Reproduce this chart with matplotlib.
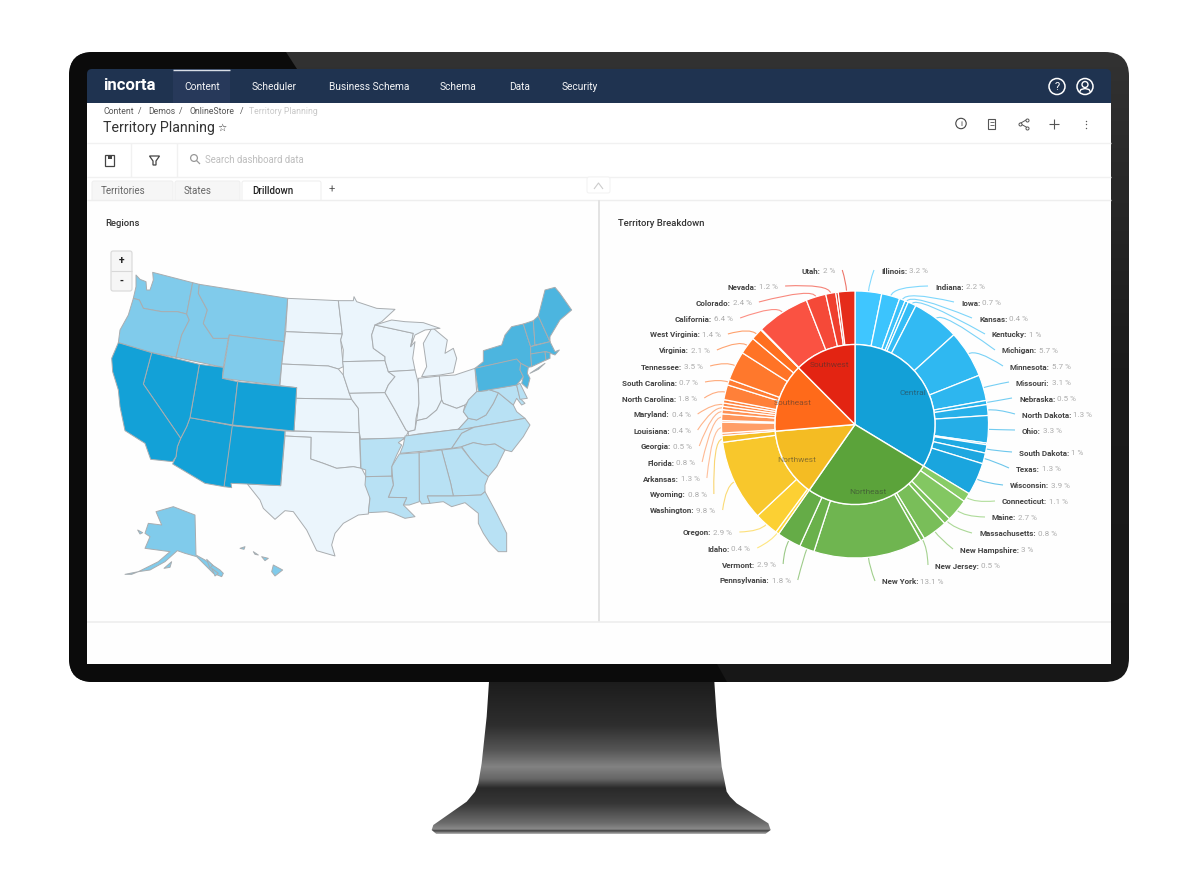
#!/usr/bin/env python3
"""Territory Planning dashboard shown on a desktop monitor."""

import numpy as np
import matplotlib
matplotlib.use('Agg')
import matplotlib.pyplot as plt
from matplotlib.colors import LinearSegmentedColormap, to_rgb
from matplotlib.patches import Circle, FancyBboxPatch, PathPatch, Polygon, Rectangle
from matplotlib.path import Path

plt.rcParams['font.family'] = ['Roboto', 'DejaVu Sans']
plt.rcParams['lines.solid_capstyle'] = 'butt'

W, H = 1200, 894

# Sunburst values (percent of total), clockwise from 12 o'clock
central_states = ['Illinois', 'Indiana', 'Iowa', 'Kansas', 'Kentucky', 'Michigan', 'Minnesota', 'Missouri',
                  'Nebraska', 'North Dakota', 'Ohio', 'Oklahoma', 'South Dakota', 'Texas', 'Wisconsin']
central_values = [3.2, 2.2, 0.7, 0.4, 1, 5.7, 5.7, 3.1, 0.5, 1.3, 3.3, 0.2, 1, 1.3, 3.9]
northeast_states = ['Connecticut', 'Maine', 'Massachusetts', 'New Hampshire', 'New Jersey', 'New York',
                    'Pennsylvania', 'Vermont']
northeast_values = [1.1, 2.7, 0.8, 3, 0.5, 13.1, 1.8, 2.9]
northwest_states = ['Idaho', 'Oregon', 'Washington', 'Wyoming']
northwest_values = [0.4, 2.9, 9.8, 0.8]
southeast_states = ['Alabama', 'Arkansas', 'Delaware', 'Florida', 'Georgia', 'Louisiana', 'Maryland', 'Mississippi',
                    'North Carolina', 'South Carolina', 'Tennessee', 'Virginia', 'West Virginia']
southeast_values = [0.3, 1.3, 0.2, 0.8, 0.5, 0.4, 0.4, 0.4, 1.8, 0.7, 3.5, 2.1, 1.4]
southwest_states = ['Arizona', 'California', 'Colorado', 'Nevada', 'New Mexico', 'Utah']
southwest_values = [0.1, 6.4, 2.4, 1.2, 0.3, 2]

regions = ['Central', 'Northeast', 'Northwest', 'Southeast', 'Southwest']
region_states = [central_states, northeast_states, northwest_states, southeast_states, southwest_states]
region_values = [central_values, northeast_values, northwest_values, southeast_values, southwest_values]
region_base = ['#13a0d7', '#5ba33a', '#f4bc23', '#ff6a1a', '#e32412']
region_light = ['#3fc6ff', '#88cc66', '#ffd83a', '#ffa26e', '#ff5c4c']
region_dark = ['#1aa5de', '#65ac47', '#f5bf25', '#ff6f1f', '#e52c1a']
region_text_xy = [(913, 393), (868, 492), (797, 460), (793, 403), (829, 365)]

# Where each state label starts, in screen pixels
label_xy = {
    'Utah': (802, 271), 'Nevada': (728, 287), 'Colorado': (696, 303), 'California': (675, 319),
    'West Virginia': (650, 335), 'Virginia': (659, 351), 'Tennessee': (641, 367), 'South Carolina': (622, 383),
    'North Carolina': (622, 399), 'Maryland': (634, 415), 'Louisiana': (633, 431), 'Georgia': (641, 447),
    'Florida': (647, 463), 'Arkansas': (643, 479), 'Wyoming': (650, 495), 'Washington': (650, 511),
    'Oregon': (683, 533), 'Idaho': (707, 549), 'Vermont': (722, 565), 'Pennsylvania': (720, 581),
    'Illinois': (881, 271), 'Indiana': (935, 287), 'Iowa': (961, 303), 'Kansas': (979, 319),
    'Kentucky': (992, 335), 'Michigan': (1002, 351), 'Minnesota': (1010, 367), 'Missouri': (1016, 383),
    'Nebraska': (1019, 399), 'North Dakota': (1022, 415), 'Ohio': (1022, 431), 'South Dakota': (1019, 453),
    'Texas': (1016, 469), 'Wisconsin': (1010, 486), 'Connecticut': (1002, 502), 'Maine': (992, 518),
    'Massachusetts': (979, 534), 'New Hampshire': (960, 550), 'New Jersey': (935, 566), 'New York': (882, 582),
}

# Map shading per region
map_colors = {'west': '#13a1d7', 'northeast': '#4cb5df', 'northwest': '#80cbeb',
              'southeast': '#b8e1f4', 'central': '#ebf5fc'}

west_shapes = {
    'NM': [(425, 557), (585, 573), (572, 737), (472, 732), (423, 730), (425, 743), (402, 740)],
    'AZ': [(300, 533), (427, 557), (402, 740), (345, 730), (248, 672), (258, 650), (262, 620), (272, 595), (290, 560)],
    'UT': [(328, 373), (400, 382), (397, 415), (443, 425), (428, 555), (300, 533)],
    'CO': [(443, 425), (620, 443), (612, 573), (428, 555)],
    'NV': [(185, 338), (328, 373), (300, 533), (290, 560), (272, 595), (160, 432)],
    'CA': [(85, 308), (185, 338), (160, 432), (272, 595), (262, 620), (258, 650), (248, 665), (182, 658), (165, 610),
           (105, 572), (90, 500), (85, 450), (68, 395), (65, 355)],
}
northwest_shapes = {
    'WA': [(138, 105), (150, 118), (168, 125), (170, 150), (180, 150), (190, 120), (188, 97), (308, 128), (290, 222),
           (262, 215), (215, 215), (160, 205), (148, 180), (130, 175), (138, 140)],
    'OR': [(130, 175), (148, 180), (160, 205), (215, 215), (262, 215), (290, 222), (298, 240), (275, 285), (258, 352),
           (185, 338), (85, 308), (90, 270), (115, 225)],
    'ID': [(308, 128), (328, 133), (325, 160), (352, 210), (340, 250), (370, 295), (415, 295), (400, 382), (258, 352),
           (275, 285), (298, 240), (290, 222)],
    'MT': [(328, 133), (593, 175), (582, 305), (418, 285), (415, 295), (370, 295), (340, 250), (352, 210), (325, 160)],
    'WY': [(418, 285), (582, 305), (568, 436), (397, 415)],
    'AK': [(198, 815), (250, 800), (315, 825), (318, 945), (345, 960), (390, 990), (400, 1000), (395, 1010), (370, 1000),
           (320, 950), (285, 940), (262, 932), (225, 965), (180, 990), (145, 995), (205, 965), (240, 935), (165, 925),
           (180, 890), (165, 880), (175, 850), (215, 855)],
    'AK2': [(222, 985), (245, 965), (240, 982)],
    'AK3': [(105, 1003), (145, 995), (125, 1003)],
    'AK4': [(350, 958), (368, 975), (360, 985)],
    'AK5': [(365, 985), (385, 1000), (375, 1008)],
    'AK6': [(143, 870), (158, 878), (150, 882)],
    'HI': [(550, 975), (578, 990), (555, 1008), (545, 995)],
    'HI2': [(490, 935), (505, 945), (495, 943)],
    'HI3': [(515, 950), (535, 955), (525, 962)],
    'HI4': [(450, 925), (465, 920), (462, 928)],
}
central_shapes = {
    'ND': [(593, 175), (745, 182), (757, 282), (587, 275)],
    'SD': [(587, 275), (757, 282), (752, 300), (760, 380), (745, 387), (715, 378), (575, 372)],
    'NE': [(575, 372), (715, 378), (745, 387), (760, 405), (778, 460), (785, 478), (618, 475), (620, 443), (570, 437)],
    'KS': [(618, 475), (785, 478), (805, 505), (808, 578), (612, 573)],
    'OK': [(585, 573), (808, 578), (812, 685), (790, 680), (740, 685), (700, 670), (662, 657), (663, 592), (585, 588)],
    'TX': [(585, 588), (663, 592), (662, 657), (700, 670), (740, 685), (790, 680), (815, 685), (828, 710), (840, 770),
           (835, 822), (805, 825), (760, 850), (735, 880), (725, 915), (735, 948), (680, 932), (650, 870), (610, 815),
           (585, 812), (555, 838), (520, 805), (510, 780), (472, 732), (572, 737)],
    'MN': [(745, 182), (790, 182), (792, 170), (800, 185), (860, 205), (915, 208), (875, 245), (855, 255), (845, 285),
           (850, 325), (885, 350), (885, 362), (758, 365), (760, 330), (752, 300), (757, 282)],
    'IA': [(758, 365), (885, 362), (895, 395), (915, 410), (895, 435), (885, 458), (778, 460), (760, 405), (760, 380)],
    'MO': [(778, 460), (885, 458), (915, 510), (948, 570), (955, 575), (945, 595), (925, 605), (928, 595), (812, 597),
           (808, 578), (805, 505), (785, 478)],
    'WI': [(845, 285), (855, 255), (970, 280), (962, 320), (975, 305), (968, 355), (975, 390), (895, 395), (885, 362),
           (885, 350), (850, 325)],
    'IL': [(895, 395), (975, 390), (985, 430), (987, 490), (978, 535), (975, 570), (955, 575), (948, 570), (915, 510),
           (885, 458), (895, 435), (915, 410)],
    'IN': [(985, 415), (1048, 408), (1055, 480), (1040, 510), (1010, 535), (980, 542), (987, 490), (985, 430)],
    'OH': [(1048, 408), (1095, 405), (1155, 385), (1160, 455), (1125, 495), (1100, 505), (1060, 490), (1055, 480)],
    'MI': [(1025, 265), (1000, 310), (1010, 380), (995, 410), (1050, 405), (1090, 398), (1100, 355), (1090, 325),
           (1065, 340), (1072, 300), (1030, 265)],
    'MI2': [(855, 255), (905, 240), (945, 245), (1000, 248), (1050, 265), (1005, 270), (975, 285), (962, 320), (970, 280)],
    'KY': [(980, 542), (1010, 535), (1040, 510), (1055, 480), (1060, 490), (1100, 505), (1125, 495), (1120, 515),
           (1135, 535), (1105, 568), (985, 582), (955, 588), (955, 575), (975, 570)],
}
southeast_shapes = {
    'TN': [(945, 588), (1150, 562), (1115, 580), (1085, 625), (930, 640), (940, 615)],
    'VA': [(1105, 568), (1135, 535), (1160, 540), (1188, 525), (1210, 490), (1225, 458), (1270, 495), (1280, 515),
           (1305, 535), (1115, 568)],
    'WV': [(1120, 515), (1135, 480), (1160, 455), (1190, 452), (1195, 448), (1225, 458), (1210, 490), (1188, 525),
           (1160, 540), (1135, 535)],
    'NC': [(1152, 562), (1305, 535), (1320, 555), (1300, 590), (1265, 635), (1245, 630), (1215, 612), (1185, 615),
           (1150, 608), (1115, 620), (1085, 625), (1115, 580)],
    'SC': [(1115, 620), (1150, 608), (1185, 615), (1215, 612), (1245, 630), (1220, 680), (1195, 710), (1175, 695),
           (1140, 655)],
    'GA': [(1055, 630), (1115, 623), (1140, 655), (1175, 695), (1195, 710), (1185, 735), (1185, 755), (1173, 765),
           (1090, 768), (1082, 730)],
    'AL': [(987, 638), (1055, 630), (1082, 730), (1090, 768), (1012, 768), (1020, 790), (995, 792), (988, 780)],
    'MS': [(928, 642), (987, 638), (988, 785), (958, 795), (940, 795), (950, 773), (895, 772), (910, 735), (905, 680)],
    'LA': [(827, 710), (905, 708), (910, 735), (895, 772), (950, 773), (940, 795), (955, 810), (975, 830), (945, 835),
           (910, 820), (890, 815), (835, 818), (840, 775), (825, 735)],
    'AR': [(810, 598), (945, 593), (925, 608), (935, 615), (920, 645), (905, 680), (905, 708), (827, 710), (827, 690),
           (813, 685)],
    'FL': [(1012, 768), (1090, 768), (1173, 765), (1185, 755), (1220, 820), (1250, 880), (1250, 935), (1225, 935),
           (1200, 910), (1180, 880), (1165, 850), (1165, 820), (1125, 788), (1085, 800), (1060, 785), (1020, 790)],
    'MD': [(1195, 448), (1280, 435), (1290, 475), (1305, 490), (1295, 495), (1280, 475), (1270, 495), (1225, 458)],
    'DE': [(1280, 435), (1290, 430), (1312, 475), (1290, 478)],
}
northeast_shapes = {
    'NY': [(1155, 385), (1180, 365), (1180, 332), (1235, 315), (1245, 285), (1265, 260), (1300, 252), (1312, 290),
           (1322, 320), (1325, 380), (1315, 382), (1292, 370), (1280, 358)],
    'LI': [(1320, 400), (1365, 370), (1345, 388)],
    'PA': [(1155, 385), (1280, 357), (1292, 370), (1290, 390), (1300, 410), (1280, 435), (1165, 455)],
    'NJ': [(1292, 370), (1315, 382), (1312, 400), (1320, 415), (1312, 445), (1295, 430), (1300, 410), (1290, 390)],
    'VT': [(1300, 252), (1330, 242), (1335, 315), (1322, 320), (1312, 290)],
    'NH': [(1330, 242), (1345, 228), (1380, 305), (1335, 315)],
    'ME': [(1345, 228), (1365, 150), (1395, 142), (1410, 160), (1445, 210), (1410, 240), (1380, 290), (1380, 305)],
    'MA': [(1322, 320), (1380, 305), (1395, 335), (1408, 330), (1395, 345), (1368, 335), (1322, 342)],
    'CT': [(1322, 342), (1365, 335), (1368, 360), (1325, 380)],
    'RI': [(1365, 335), (1380, 338), (1380, 355), (1368, 360)],
}
map_groups = [('central', central_shapes), ('southeast', southeast_shapes), ('northwest', northwest_shapes),
              ('west', west_shapes), ('northeast', northeast_shapes)]

# Nav bar and other chrome text
nav_items = [('Content', 184), ('Scheduler', 252), ('Business Schema', 329), ('Schema', 440), ('Data', 509),
             ('Security', 562)]
crumbs = [('Content', 103), ('/', 138), ('Demos', 148), ('/', 179), ('OnlineStore', 190), ('/', 240)]
tabs = [('Territories', 92, 173, 101), ('States', 175, 240, 184), ('Drilldown', 242, 321, 252)]

# Stand outline and shading
stand_outline = [(207, 215), (200, 320), (185, 460), (175, 520), (165, 545), (140, 575), (40, 645), (35, 660), (50, 673),
                 (1035, 673), (1052, 660), (1045, 640), (950, 580), (930, 560), (920, 545), (905, 470), (890, 320), (883, 215)]
stand_stops = [(0.0, '#1c1c1c'), (0.29, '#2e2e2e'), (0.45, '#555555'), (0.56, '#828282'), (0.64, '#666666'),
               (0.70, '#2a2a2a'), (0.80, '#363636'), (0.93, '#6c6c6c'), (0.97, '#8a8a8a'), (0.98, '#404040'),
               (1.0, '#b0b0b0')]

fig = plt.figure(figsize=(W / 100, H / 100), dpi=100, facecolor='white')
ax = fig.add_axes([0, 0, 1, 1], zorder=0)
ax.set_xlim(0, W)
ax.set_ylim(H, 0)
ax.axis('off')


def gradient_fill(clip_patch, extent, cmap):
    grad = np.linspace(0, 1, 256).reshape(-1, 1)
    im = ax.imshow(grad, extent=extent, aspect='auto', cmap=cmap, zorder=clip_patch.get_zorder(), origin='upper')
    im.set_clip_path(clip_patch)


# Monitor stand
stand = Polygon([(420 + x / 3, 610 + y / 3) for x, y in stand_outline], closed=True, fc='none', ec='none', zorder=1)
ax.add_patch(stand)
gradient_fill(stand, (430, 775, 834.5, 681.5), LinearSegmentedColormap.from_list('stand', stand_stops))

# Monitor bezel: glossy gradient, dark left part on top of it
bezel = FancyBboxPatch((69, 52), 1060, 630, boxstyle='round,pad=0,rounding_size=24', fc='none', ec='none', zorder=2)
ax.add_patch(bezel)
gradient_fill(bezel, (69, 1129, 682, 52), LinearSegmentedColormap.from_list('gloss', ['#323232', '#1b1b1b', '#171717']))
dark = Polygon([(69, 52), (286, 52), (297, 69), (717, 664), (727, 682), (69, 682)], closed=True, fc='#0b0b0b', ec='none', zorder=3)
ax.add_patch(dark)
dark.set_clip_path(bezel)
ax.set_xlim(0, W)
ax.set_ylim(H, 0)

# Screen
ax.add_patch(Rectangle((87, 100), 1024, 564, fc='#fefefe', ec='none', zorder=4))
ax.add_patch(FancyBboxPatch((87, 69), 1024, 34, boxstyle='round,pad=0,rounding_size=5', fc='#1f3350', ec='none', zorder=5))
ax.add_patch(Rectangle((87, 90), 1024, 13, fc='#1f3350', ec='none', zorder=5))
ax.add_patch(Rectangle((87, 103), 1024, 97, fc='white', ec='none', zorder=5))
ax.add_patch(Rectangle((173, 69), 57, 34, fc='#27395a', ec='none', zorder=6))
ax.plot([173, 230], [69.5, 69.5], color='#d8dde5', lw=1, zorder=7)

ax.text(103, 86, 'incorta', color='white', fontsize=12, fontweight='bold', va='center', zorder=7)
for name, x in nav_items:
    ax.text(x, 86.5, name, color='white', fontsize=7.3, va='center', zorder=7, alpha=0.95)

for name, x in crumbs:
    ax.text(x, 112, name, color='#555555', fontsize=6.2, va='center', zorder=7)
ax.text(249, 112, 'Territory Planning', color='#c8c8c8', fontsize=6.2, va='center', zorder=7)
ax.text(103, 128, 'Territory Planning', color='#333333', fontsize=10.2, va='center', zorder=7)
ax.text(222, 128, '\u2606', color='#333333', fontsize=7.5, va='center', ha='center', zorder=7,
        family=['DejaVu Sans'])

# Toolbar separators
for y in [143, 177]:
    ax.plot([87, 1111], [y, y], color='#f1f1f1', lw=1, zorder=6)
for x in [131, 177]:
    ax.plot([x, x], [143, 177], color='#f1f1f1', lw=1, zorder=6)
ax.add_patch(Rectangle((105, 155), 8.5, 11, fc='none', ec='#444444', lw=0.9, zorder=7))
ax.add_patch(Rectangle((108, 155), 3.5, 3.5, fc='#444444', ec='none', zorder=7))
ax.add_patch(Polygon([(149.5, 156), (159.5, 156), (156, 161), (156, 165), (153, 165), (153, 161)], closed=True,
                     fc='none', ec='#444444', lw=0.9, zorder=7))
ax.add_patch(Circle((194, 158), 3.4, fc='none', ec='#999999', lw=0.9, zorder=7))
ax.plot([196.5, 200], [160.5, 164], color='#999999', lw=0.9, zorder=7)
ax.text(205, 160, 'Search dashboard data', color='#bdbdbd', fontsize=6.9, va='center', zorder=7)

# Tabs
for name, x0, x1, tx in tabs:
    active = name == 'Drilldown'
    ax.add_patch(FancyBboxPatch((x0, 181), x1 - x0, 22, boxstyle='round,pad=0,rounding_size=2',
                                fc='white' if active else '#f6f6f6', ec='#eeeeee', lw=0.7, zorder=6))
    ax.text(tx, 191, name, color='#222222' if active else '#666666', fontsize=7, va='center', zorder=7,
            fontweight='medium' if active else 'normal')
ax.text(332, 190, '+', color='#555555', fontsize=8, va='center', ha='center', zorder=7)
ax.add_patch(Rectangle((87, 200), 1024, 464, fc='#fefefe', ec='none', zorder=6))
ax.plot([87, 1111], [200, 200], color='#eeeeee', lw=1, zorder=7)
ax.add_patch(FancyBboxPatch((587, 177), 23, 16, boxstyle='round,pad=0,rounding_size=2', fc='white', ec='#f1f1f1', lw=0.7, zorder=6))
ax.plot([594, 598.5, 603], [189, 183, 189], color='#cccccc', lw=0.8, zorder=7)

# Header and panel icons
ax.add_patch(Circle((1057, 86.5), 8, fc='none', ec='white', lw=1.1, zorder=7))
ax.text(1057, 86.5, '?', color='white', fontsize=8, ha='center', va='center', zorder=8)
ax.add_patch(Circle((1085, 86.5), 8, fc='none', ec='white', lw=1.1, zorder=7))
ax.add_patch(Circle((1085, 84.5), 3, fc='none', ec='white', lw=1, zorder=8))
ax.plot([1079.5, 1081, 1085, 1089, 1090.5], [92, 89.5, 88.5, 89.5, 92], color='white', lw=1, zorder=8)
ax.add_patch(Circle((961, 123.5), 5.2, fc='none', ec='#444444', lw=0.8, zorder=7))
ax.text(961, 123.5, 'i', color='#444444', fontsize=6, ha='center', va='center', zorder=8)
ax.add_patch(Rectangle((988, 119), 7, 10, fc='none', ec='#555555', lw=0.8, zorder=7))
ax.plot([989.5, 993.5], [122, 122], color='#555555', lw=0.6, zorder=7)
ax.plot([989.5, 993.5], [124.5, 124.5], color='#555555', lw=0.6, zorder=7)
ax.plot([1027, 1020, 1027], [119.5, 123.5, 127.5], color='#555555', lw=0.7, marker='o', ms=2.2, mfc='white', mew=0.7, zorder=7)
ax.plot([1049, 1059], [123.5, 123.5], color='#555555', lw=0.8, zorder=7)
ax.plot([1054, 1054], [118.5, 128.5], color='#555555', lw=0.8, zorder=7)
ax.plot([1086, 1086, 1086], [120.5, 124, 127.5], ls='none', marker='o', ms=1.0, mew=0, color='#555555', zorder=7)

# Panels
ax.plot([598.5, 598.5], [200, 622], color='#e3e3e3', lw=1.4, zorder=7)
ax.plot([87, 1111], [622, 622], color='#eeeeee', lw=1.2, zorder=7)
ax.text(105, 223, 'Regions', color='#333333', fontsize=6.8, fontweight='medium', va='center', zorder=8)
ax.text(618, 223, 'Territory Breakdown', color='#333333', fontsize=6.8, fontweight='medium', va='center', zorder=8)

# Map
for group, shapes in map_groups:
    for name, pts in shapes.items():
        ax.add_patch(Polygon([(90 + x / 3, 240 + y / 3) for x, y in pts], closed=True, fc=map_colors[group],
                             ec='#a9adb0', lw=0.7, joinstyle='round', zorder=8))
ax.add_patch(FancyBboxPatch((111, 251), 21, 40, boxstyle='round,pad=0,rounding_size=2', fc='#f6f6f6', ec='#d8d8d8', lw=0.8, zorder=8))
ax.plot([111, 132], [271, 271], color='#d8d8d8', lw=0.8, zorder=9)
ax.text(121.5, 261, '+', color='#222222', fontsize=7.5, fontweight='bold', ha='center', va='center', zorder=9)
ax.text(121.5, 281, '-', color='#222222', fontsize=7.5, fontweight='bold', ha='center', va='center', zorder=9)

# Sunburst, in its own square axes so one data unit is one pixel
cx, cy, half = 855, 424.5, 150
ax_pie = fig.add_axes([(cx - half) / W, (H - cy - half) / H, 2 * half / W, 2 * half / H], zorder=1)

state_names, state_values, state_colors = [], [], []
for states, values, dark_col, light in zip(region_states, region_values, region_dark, region_light):
    b, l = np.array(to_rgb(dark_col)), np.array(to_rgb(light))
    for i, (state, val) in enumerate(zip(states, values)):
        f = i / max(len(states) - 1, 1)
        state_names.append(state)
        state_values.append(val)
        state_colors.append(tuple(l + (b - l) * f))

region_totals = [sum(v) for v in region_values]
ax_pie.pie(state_values, colors=state_colors, radius=133.5, startangle=90, counterclock=False,
           wedgeprops=dict(width=53.5, edgecolor='white', linewidth=0.9))
ax_pie.pie(region_totals, colors=region_base, radius=80, startangle=90, counterclock=False,
           wedgeprops=dict(edgecolor='white', linewidth=1))
ax_pie.set_xlim(-half, half)
ax_pie.set_ylim(-half, half)
ax_pie.set_aspect('equal')

for name, (tx, ty) in zip(regions, region_text_xy):
    ax_pie.text(tx - cx, cy - ty, name, color='#333333', alpha=0.55, fontsize=6, ha='center', va='center')

# State labels with curved leader lines
renderer = fig.canvas.get_renderer()
total = sum(state_values)
cum = 0
for name, val, col in zip(state_names, state_values, state_colors):
    theta = 2 * np.pi * (cum + val / 2) / total
    cum += val
    if name not in label_xy:
        continue
    lx, ly = label_xy[name]
    t1 = ax.text(lx, ly, f'{name}:', color='#444444', fontsize=5.8, fontweight='bold', va='center', zorder=9)
    x1 = t1.get_window_extent(renderer).x1
    t2 = ax.text(x1 + 2, ly, f'{val:g} %', color='#ababab', fontsize=5.8, va='center', zorder=9)
    x2 = t2.get_window_extent(renderer).x1
    start = (cx + 133.5 * np.sin(theta), cy - 133.5 * np.cos(theta))
    bend = (cx + 143 * np.sin(theta), cy - 143 * np.cos(theta))
    end = (lx - 7, ly - 1) if np.sin(theta) > 0 else (x2 + 7, ly - 1)
    c = np.array(col) * 0.65 + 0.35
    ax.add_patch(PathPatch(Path([start, bend, end], [Path.MOVETO, Path.CURVE3, Path.CURVE3]), fc='none',
                           ec=tuple(c), lw=0.8, zorder=9))

plt.savefig('out.png', dpi=100)
plt.close()
